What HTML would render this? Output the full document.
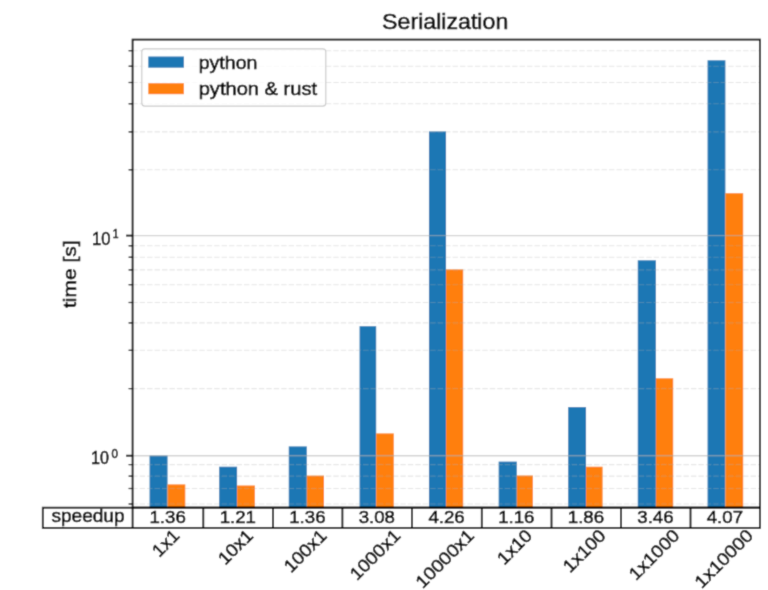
<!DOCTYPE html>
<html><head><meta charset="utf-8"><style>html,body{margin:0;padding:0;width:768px;height:590px;overflow:hidden;background:#fff} text{stroke:#000;stroke-width:0.55px;paint-order:stroke}</style></head><body>
<svg width="768" height="590" viewBox="0 0 768 590" style="position:absolute;left:0;top:0">
<defs><filter id="bl" x="0" y="0" width="768" height="590" filterUnits="userSpaceOnUse"><feConvolveMatrix order="3" kernelMatrix="0.025 0.1 0.025 0.1 0.5 0.1 0.025 0.1 0.025" edgeMode="duplicate"/></filter></defs>
<g filter="url(#bl)">
<rect width="768" height="590" fill="#fff"/>
<defs><clipPath id="ax"><rect x="132.6" y="39.6" width="627.3" height="468.0"/></clipPath></defs>
<g clip-path="url(#ax)">
<rect x="149.55" y="455.5" width="18.00" height="52.10" fill="#1f77b4"/>
<rect x="167.55" y="484.4" width="17.75" height="23.20" fill="#ff7f0e"/>
<rect x="219.15" y="466.7" width="17.95" height="40.90" fill="#1f77b4"/>
<rect x="237.10" y="485.5" width="17.80" height="22.10" fill="#ff7f0e"/>
<rect x="288.75" y="446.4" width="18.05" height="61.20" fill="#1f77b4"/>
<rect x="306.80" y="475.6" width="17.20" height="32.00" fill="#ff7f0e"/>
<rect x="359.55" y="326.2" width="16.65" height="181.40" fill="#1f77b4"/>
<rect x="376.20" y="433.4" width="17.60" height="74.20" fill="#ff7f0e"/>
<rect x="428.95" y="131.4" width="17.10" height="376.20" fill="#1f77b4"/>
<rect x="446.05" y="269.4" width="17.15" height="238.20" fill="#ff7f0e"/>
<rect x="498.65" y="461.6" width="18.15" height="46.00" fill="#1f77b4"/>
<rect x="516.80" y="475.5" width="16.10" height="32.10" fill="#ff7f0e"/>
<rect x="568.15" y="407.1" width="17.90" height="100.50" fill="#1f77b4"/>
<rect x="586.05" y="466.7" width="16.55" height="40.90" fill="#ff7f0e"/>
<rect x="637.75" y="260.3" width="18.15" height="247.30" fill="#1f77b4"/>
<rect x="655.90" y="378.3" width="17.30" height="129.30" fill="#ff7f0e"/>
<rect x="707.55" y="60.3" width="17.85" height="447.30" fill="#1f77b4"/>
<rect x="725.40" y="193.2" width="17.80" height="314.40" fill="#ff7f0e"/>
<line x1="132.6" x2="759.9" y1="504.00" y2="504.00" stroke="#b0b0b0" stroke-opacity="0.3" stroke-width="1.1" stroke-dasharray="5.4 2.05" stroke-dashoffset="0.4"/>
<line x1="132.6" x2="759.9" y1="488.50" y2="488.50" stroke="#b0b0b0" stroke-opacity="0.3" stroke-width="1.1" stroke-dasharray="5.4 2.05" stroke-dashoffset="0.4"/>
<line x1="132.6" x2="759.9" y1="476.10" y2="476.10" stroke="#b0b0b0" stroke-opacity="0.3" stroke-width="1.1" stroke-dasharray="5.4 2.05" stroke-dashoffset="0.4"/>
<line x1="132.6" x2="759.9" y1="464.60" y2="464.60" stroke="#b0b0b0" stroke-opacity="0.3" stroke-width="1.1" stroke-dasharray="5.4 2.05" stroke-dashoffset="0.4"/>
<line x1="132.6" x2="759.9" y1="388.60" y2="388.60" stroke="#b0b0b0" stroke-opacity="0.3" stroke-width="1.1" stroke-dasharray="5.4 2.05" stroke-dashoffset="0.4"/>
<line x1="132.6" x2="759.9" y1="350.30" y2="350.30" stroke="#b0b0b0" stroke-opacity="0.3" stroke-width="1.1" stroke-dasharray="5.4 2.05" stroke-dashoffset="0.4"/>
<line x1="132.6" x2="759.9" y1="322.90" y2="322.90" stroke="#b0b0b0" stroke-opacity="0.3" stroke-width="1.1" stroke-dasharray="5.4 2.05" stroke-dashoffset="0.4"/>
<line x1="132.6" x2="759.9" y1="302.50" y2="302.50" stroke="#b0b0b0" stroke-opacity="0.3" stroke-width="1.1" stroke-dasharray="5.4 2.05" stroke-dashoffset="0.4"/>
<line x1="132.6" x2="759.9" y1="284.70" y2="284.70" stroke="#b0b0b0" stroke-opacity="0.3" stroke-width="1.1" stroke-dasharray="5.4 2.05" stroke-dashoffset="0.4"/>
<line x1="132.6" x2="759.9" y1="269.90" y2="269.90" stroke="#b0b0b0" stroke-opacity="0.3" stroke-width="1.1" stroke-dasharray="5.4 2.05" stroke-dashoffset="0.4"/>
<line x1="132.6" x2="759.9" y1="257.20" y2="257.20" stroke="#b0b0b0" stroke-opacity="0.3" stroke-width="1.1" stroke-dasharray="5.4 2.05" stroke-dashoffset="0.4"/>
<line x1="132.6" x2="759.9" y1="245.80" y2="245.80" stroke="#b0b0b0" stroke-opacity="0.3" stroke-width="1.1" stroke-dasharray="5.4 2.05" stroke-dashoffset="0.4"/>
<line x1="132.6" x2="759.9" y1="169.80" y2="169.80" stroke="#b0b0b0" stroke-opacity="0.3" stroke-width="1.1" stroke-dasharray="5.4 2.05" stroke-dashoffset="0.4"/>
<line x1="132.6" x2="759.9" y1="131.90" y2="131.90" stroke="#b0b0b0" stroke-opacity="0.3" stroke-width="1.1" stroke-dasharray="5.4 2.05" stroke-dashoffset="0.4"/>
<line x1="132.6" x2="759.9" y1="103.80" y2="103.80" stroke="#b0b0b0" stroke-opacity="0.3" stroke-width="1.1" stroke-dasharray="5.4 2.05" stroke-dashoffset="0.4"/>
<line x1="132.6" x2="759.9" y1="82.50" y2="82.50" stroke="#b0b0b0" stroke-opacity="0.3" stroke-width="1.1" stroke-dasharray="5.4 2.05" stroke-dashoffset="0.4"/>
<line x1="132.6" x2="759.9" y1="66.20" y2="66.20" stroke="#b0b0b0" stroke-opacity="0.3" stroke-width="1.1" stroke-dasharray="5.4 2.05" stroke-dashoffset="0.4"/>
<line x1="132.6" x2="759.9" y1="50.70" y2="50.70" stroke="#b0b0b0" stroke-opacity="0.3" stroke-width="1.1" stroke-dasharray="5.4 2.05" stroke-dashoffset="0.4"/>
<line x1="132.6" x2="759.9" y1="455.70" y2="455.70" stroke="#b0b0b0" stroke-opacity="0.55" stroke-width="1.4"/>
<line x1="132.6" x2="759.9" y1="235.60" y2="235.60" stroke="#b0b0b0" stroke-opacity="0.55" stroke-width="1.4"/>
</g>
<line x1="128.6" x2="132.6" y1="504.00" y2="504.00" stroke="#000" stroke-width="1.25"/>
<line x1="128.6" x2="132.6" y1="488.50" y2="488.50" stroke="#000" stroke-width="1.25"/>
<line x1="128.6" x2="132.6" y1="476.10" y2="476.10" stroke="#000" stroke-width="1.25"/>
<line x1="128.6" x2="132.6" y1="464.60" y2="464.60" stroke="#000" stroke-width="1.25"/>
<line x1="128.6" x2="132.6" y1="388.60" y2="388.60" stroke="#000" stroke-width="1.25"/>
<line x1="128.6" x2="132.6" y1="350.30" y2="350.30" stroke="#000" stroke-width="1.25"/>
<line x1="128.6" x2="132.6" y1="322.90" y2="322.90" stroke="#000" stroke-width="1.25"/>
<line x1="128.6" x2="132.6" y1="302.50" y2="302.50" stroke="#000" stroke-width="1.25"/>
<line x1="128.6" x2="132.6" y1="284.70" y2="284.70" stroke="#000" stroke-width="1.25"/>
<line x1="128.6" x2="132.6" y1="269.90" y2="269.90" stroke="#000" stroke-width="1.25"/>
<line x1="128.6" x2="132.6" y1="257.20" y2="257.20" stroke="#000" stroke-width="1.25"/>
<line x1="128.6" x2="132.6" y1="245.80" y2="245.80" stroke="#000" stroke-width="1.25"/>
<line x1="128.6" x2="132.6" y1="169.80" y2="169.80" stroke="#000" stroke-width="1.25"/>
<line x1="128.6" x2="132.6" y1="131.90" y2="131.90" stroke="#000" stroke-width="1.25"/>
<line x1="128.6" x2="132.6" y1="103.80" y2="103.80" stroke="#000" stroke-width="1.25"/>
<line x1="128.6" x2="132.6" y1="82.50" y2="82.50" stroke="#000" stroke-width="1.25"/>
<line x1="128.6" x2="132.6" y1="66.20" y2="66.20" stroke="#000" stroke-width="1.25"/>
<line x1="128.6" x2="132.6" y1="50.70" y2="50.70" stroke="#000" stroke-width="1.25"/>
<line x1="126.1" x2="132.6" y1="455.70" y2="455.70" stroke="#000" stroke-width="1.85"/>
<line x1="126.1" x2="132.6" y1="235.60" y2="235.60" stroke="#000" stroke-width="1.85"/>
<rect x="132.6" y="39.6" width="627.30" height="468.00" fill="none" stroke="#000" stroke-width="1.85"/>
<rect x="141.8" y="48.8" width="184" height="57.3" rx="3" ry="3" fill="#fff" fill-opacity="0.8" stroke="#cccccc" stroke-width="1.2"/>
<rect x="148.3" y="56.5" width="35.6" height="11.2" fill="#1f77b4"/>
<rect x="148.3" y="83.2" width="35.6" height="11.0" fill="#ff7f0e"/>
<text x="198.7" y="69.0" font-family='"Liberation Sans", sans-serif' font-size="18.2" fill="#000" textLength="58.7" lengthAdjust="spacingAndGlyphs">python</text>
<text x="198.7" y="95.1" font-family='"Liberation Sans", sans-serif' font-size="18.2" fill="#000" textLength="118.4" lengthAdjust="spacingAndGlyphs">python &amp; rust</text>
<text x="382.1" y="28.5" font-family='"Liberation Sans", sans-serif' font-size="21.9" fill="#000" textLength="126.2" lengthAdjust="spacingAndGlyphs">Serialization</text>
<text transform="translate(76.3,308.1) rotate(-90)" x="0" y="0" font-family='"Liberation Sans", sans-serif' font-size="18.2" fill="#000" textLength="67.8" lengthAdjust="spacingAndGlyphs">time [s]</text>
<text x="91.0" y="464.0" font-family='"Liberation Sans", sans-serif' font-size="17.7" fill="#000" textLength="17.9" lengthAdjust="spacingAndGlyphs">10</text>
<text x="111.4" y="457.6" font-family='"Liberation Sans", sans-serif' font-size="12.6" fill="#000" textLength="6.4" lengthAdjust="spacingAndGlyphs">0</text>
<text x="92.0" y="245.0" font-family='"Liberation Sans", sans-serif' font-size="17.7" fill="#000" textLength="18.5" lengthAdjust="spacingAndGlyphs">10</text>
<text x="112.8" y="238.4" font-family='"Liberation Sans", sans-serif' font-size="12.6" fill="#000" textLength="5.8" lengthAdjust="spacingAndGlyphs">1</text>
<rect x="42.8" y="507.7" width="717.10" height="20.20" fill="none" stroke="#000" stroke-width="1.85"/>
<line x1="132.6" x2="132.6" y1="507.7" y2="527.9" stroke="#000" stroke-width="1.85"/>
<line x1="203.3" x2="203.3" y1="507.7" y2="527.9" stroke="#000" stroke-width="1.85"/>
<line x1="273.0" x2="273.0" y1="507.7" y2="527.9" stroke="#000" stroke-width="1.85"/>
<line x1="342.4" x2="342.4" y1="507.7" y2="527.9" stroke="#000" stroke-width="1.85"/>
<line x1="411.9" x2="411.9" y1="507.7" y2="527.9" stroke="#000" stroke-width="1.85"/>
<line x1="481.8" x2="481.8" y1="507.7" y2="527.9" stroke="#000" stroke-width="1.85"/>
<line x1="551.5" x2="551.5" y1="507.7" y2="527.9" stroke="#000" stroke-width="1.85"/>
<line x1="621.0" x2="621.0" y1="507.7" y2="527.9" stroke="#000" stroke-width="1.85"/>
<line x1="690.5" x2="690.5" y1="507.7" y2="527.9" stroke="#000" stroke-width="1.85"/>
<text x="88.0" y="522.3" text-anchor="middle" font-family='"Liberation Sans", sans-serif' font-size="18.2" fill="#000" textLength="73.1" lengthAdjust="spacingAndGlyphs">speedup</text>
<text x="167.65" y="522.6" text-anchor="middle" font-family='"Liberation Sans", sans-serif' font-size="16.9" fill="#000" textLength="36.3" lengthAdjust="spacingAndGlyphs">1.36</text>
<text x="237.85" y="522.6" text-anchor="middle" font-family='"Liberation Sans", sans-serif' font-size="16.9" fill="#000" textLength="36.3" lengthAdjust="spacingAndGlyphs">1.21</text>
<text x="307.40" y="522.6" text-anchor="middle" font-family='"Liberation Sans", sans-serif' font-size="16.9" fill="#000" textLength="36.3" lengthAdjust="spacingAndGlyphs">1.36</text>
<text x="376.85" y="522.6" text-anchor="middle" font-family='"Liberation Sans", sans-serif' font-size="16.9" fill="#000" textLength="36.3" lengthAdjust="spacingAndGlyphs">3.08</text>
<text x="446.55" y="522.6" text-anchor="middle" font-family='"Liberation Sans", sans-serif' font-size="16.9" fill="#000" textLength="36.3" lengthAdjust="spacingAndGlyphs">4.26</text>
<text x="516.35" y="522.6" text-anchor="middle" font-family='"Liberation Sans", sans-serif' font-size="16.9" fill="#000" textLength="36.3" lengthAdjust="spacingAndGlyphs">1.16</text>
<text x="585.95" y="522.6" text-anchor="middle" font-family='"Liberation Sans", sans-serif' font-size="16.9" fill="#000" textLength="36.3" lengthAdjust="spacingAndGlyphs">1.86</text>
<text x="655.45" y="522.6" text-anchor="middle" font-family='"Liberation Sans", sans-serif' font-size="16.9" fill="#000" textLength="36.3" lengthAdjust="spacingAndGlyphs">3.46</text>
<text x="724.90" y="522.6" text-anchor="middle" font-family='"Liberation Sans", sans-serif' font-size="16.9" fill="#000" textLength="36.3" lengthAdjust="spacingAndGlyphs">4.07</text>
<text transform="translate(165.47,542.84) rotate(-45)" x="0" y="6.30" text-anchor="middle" font-family='"Liberation Sans", sans-serif' font-size="17.7" fill="#000" textLength="29.94" lengthAdjust="spacingAndGlyphs">1x1</text>
<text transform="translate(235.22,546.75) rotate(-45)" x="0" y="6.30" text-anchor="middle" font-family='"Liberation Sans", sans-serif' font-size="17.7" fill="#000" textLength="41.01" lengthAdjust="spacingAndGlyphs">10x1</text>
<text transform="translate(304.98,550.67) rotate(-45)" x="0" y="6.30" text-anchor="middle" font-family='"Liberation Sans", sans-serif' font-size="17.7" fill="#000" textLength="52.08" lengthAdjust="spacingAndGlyphs">100x1</text>
<text transform="translate(374.73,554.58) rotate(-45)" x="0" y="6.30" text-anchor="middle" font-family='"Liberation Sans", sans-serif' font-size="17.7" fill="#000" textLength="63.15" lengthAdjust="spacingAndGlyphs">1000x1</text>
<text transform="translate(444.48,558.50) rotate(-45)" x="0" y="6.30" text-anchor="middle" font-family='"Liberation Sans", sans-serif' font-size="17.7" fill="#000" textLength="74.22" lengthAdjust="spacingAndGlyphs">10000x1</text>
<text transform="translate(514.23,546.75) rotate(-45)" x="0" y="6.30" text-anchor="middle" font-family='"Liberation Sans", sans-serif' font-size="17.7" fill="#000" textLength="41.01" lengthAdjust="spacingAndGlyphs">1x10</text>
<text transform="translate(583.98,550.67) rotate(-45)" x="0" y="6.30" text-anchor="middle" font-family='"Liberation Sans", sans-serif' font-size="17.7" fill="#000" textLength="52.08" lengthAdjust="spacingAndGlyphs">1x100</text>
<text transform="translate(653.73,554.58) rotate(-45)" x="0" y="6.30" text-anchor="middle" font-family='"Liberation Sans", sans-serif' font-size="17.7" fill="#000" textLength="63.15" lengthAdjust="spacingAndGlyphs">1x1000</text>
<text transform="translate(723.48,558.50) rotate(-45)" x="0" y="6.30" text-anchor="middle" font-family='"Liberation Sans", sans-serif' font-size="17.7" fill="#000" textLength="74.22" lengthAdjust="spacingAndGlyphs">1x10000</text>
</g></svg>
</body></html>
